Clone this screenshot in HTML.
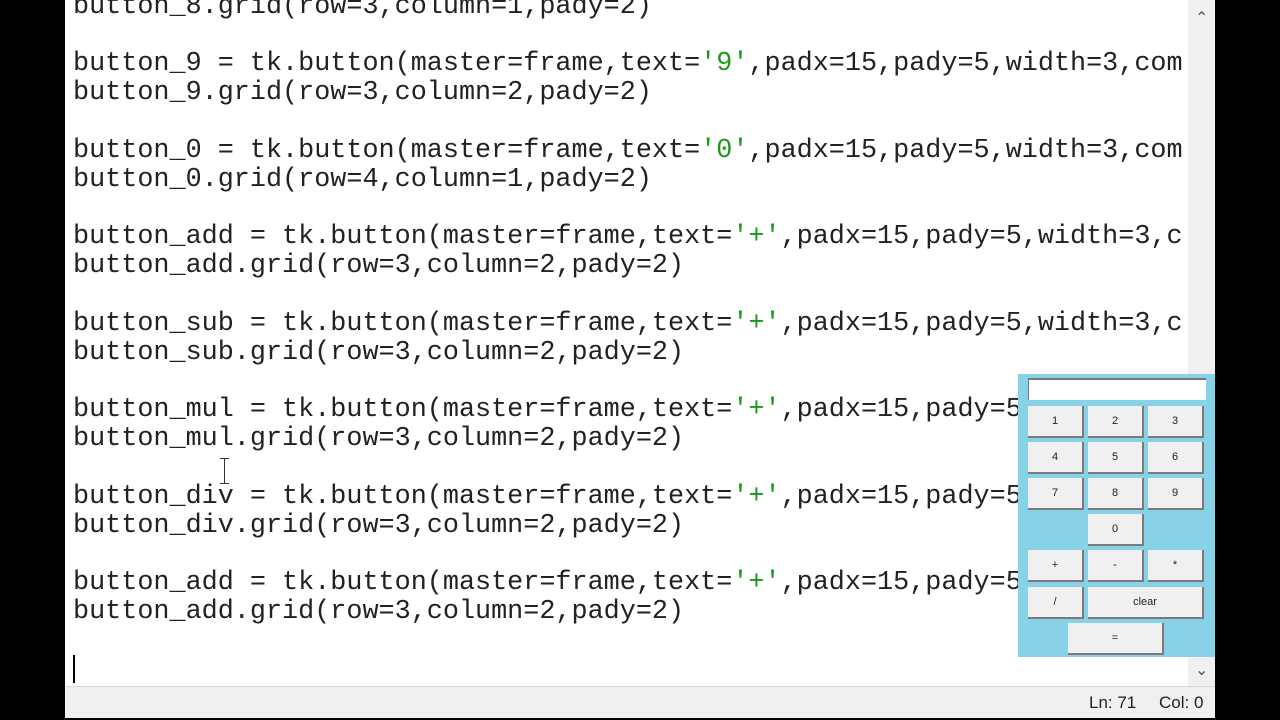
<!DOCTYPE html>
<html><head><meta charset="utf-8"><style>
body{margin:0;width:1280px;height:720px;background:#000;position:relative;overflow:hidden;font-family:"Liberation Sans",sans-serif}
#ed{position:absolute;left:65px;top:0;width:1150px;height:686px;background:#fff;overflow:hidden}
.l{position:absolute;left:8px;font-family:"Liberation Mono",monospace;font-size:26.8px;line-height:29px;white-space:pre;color:#222;height:29px;margin-top:2px}
.s{color:#1a9a1a}
#sb{position:absolute;left:1188px;top:0;width:27px;height:686px;background:#f0f0f0}
#st{position:absolute;left:65px;top:686px;width:1150px;height:32px;background:#f0f0f0;border-top:1px solid #d8d8d8;box-sizing:border-box}
#calc{position:absolute;left:1018px;top:374px;width:197px;height:283px;background:#88d2e8}
.b{position:absolute;background:#f0f0f0;border-right:2px solid #7a7a7a;border-bottom:2px solid #7a7a7a;box-sizing:border-box;font-size:11px;color:#222;text-align:center;line-height:31px}
</style></head><body>
<div id="ed">
<div class="l" style="top:-9px">button_8.grid(row=3,column=1,pady=2)</div>
<div class="l" style="top:48px">button_9 = tk.button(master=frame,text=<span class="s">'9'</span>,padx=15,pady=5,width=3,com</div>
<div class="l" style="top:77px">button_9.grid(row=3,column=2,pady=2)</div>
<div class="l" style="top:135px">button_0 = tk.button(master=frame,text=<span class="s">'0'</span>,padx=15,pady=5,width=3,com</div>
<div class="l" style="top:164px">button_0.grid(row=4,column=1,pady=2)</div>
<div class="l" style="top:221px">button_add = tk.button(master=frame,text=<span class="s">'+'</span>,padx=15,pady=5,width=3,c</div>
<div class="l" style="top:250px">button_add.grid(row=3,column=2,pady=2)</div>
<div class="l" style="top:308px">button_sub = tk.button(master=frame,text=<span class="s">'+'</span>,padx=15,pady=5,width=3,c</div>
<div class="l" style="top:337px">button_sub.grid(row=3,column=2,pady=2)</div>
<div class="l" style="top:394px">button_mul = tk.button(master=frame,text=<span class="s">'+'</span>,padx=15,pady=5</div>
<div class="l" style="top:423px">button_mul.grid(row=3,column=2,pady=2)</div>
<div class="l" style="top:481px">button_div = tk.button(master=frame,text=<span class="s">'+'</span>,padx=15,pady=5</div>
<div class="l" style="top:510px">button_div.grid(row=3,column=2,pady=2)</div>
<div class="l" style="top:567px">button_add = tk.button(master=frame,text=<span class="s">'+'</span>,padx=15,pady=5</div>
<div class="l" style="top:596px">button_add.grid(row=3,column=2,pady=2)</div>
<div style="position:absolute;left:8px;top:655px;width:2px;height:28px;background:#000"></div>
<div style="position:absolute;left:159px;top:458px;width:1px;height:26px;background:#333"></div>
<div style="position:absolute;left:155px;top:458px;width:9px;height:1px;background:#333"></div>
<div style="position:absolute;left:155px;top:483px;width:9px;height:1px;background:#333"></div>
</div>
<div id="sb">
<div style="position:absolute;left:7px;top:8px;font-size:16px;color:#555">&#8963;</div>
<div style="position:absolute;left:7px;top:660px;font-size:16px;color:#555">&#8964;</div>
</div>
<div id="st"><span style="position:absolute;left:1024px;top:6px;font-size:17px;color:#222">Ln: 71</span><span style="position:absolute;left:1094px;top:6px;font-size:17px;color:#222">Col: 0</span></div>
<div id="calc">
<div style="position:absolute;left:10px;top:4px;width:178px;height:22px;background:#fff;border-top:2px solid #777;border-left:1px solid #777;box-sizing:border-box"></div>
<div class="b" style="left:10px;top:32px;width:56px;height:32px">1</div>
<div class="b" style="left:70px;top:32px;width:56px;height:32px">2</div>
<div class="b" style="left:130px;top:32px;width:56px;height:32px">3</div>
<div class="b" style="left:10px;top:68px;width:56px;height:32px">4</div>
<div class="b" style="left:70px;top:68px;width:56px;height:32px">5</div>
<div class="b" style="left:130px;top:68px;width:56px;height:32px">6</div>
<div class="b" style="left:10px;top:104px;width:56px;height:32px">7</div>
<div class="b" style="left:70px;top:104px;width:56px;height:32px">8</div>
<div class="b" style="left:130px;top:104px;width:56px;height:32px">9</div>
<div class="b" style="left:70px;top:140px;width:56px;height:32px">0</div>
<div class="b" style="left:10px;top:176px;width:56px;height:32px">+</div>
<div class="b" style="left:70px;top:176px;width:56px;height:32px">-</div>
<div class="b" style="left:130px;top:176px;width:56px;height:32px">*</div>
<div class="b" style="left:10px;top:213px;width:56px;height:32px">/</div>
<div class="b" style="left:70px;top:213px;width:116px;height:32px">clear</div>
<div class="b" style="left:50px;top:249px;width:96px;height:32px">=</div>
</div>
</body></html>
